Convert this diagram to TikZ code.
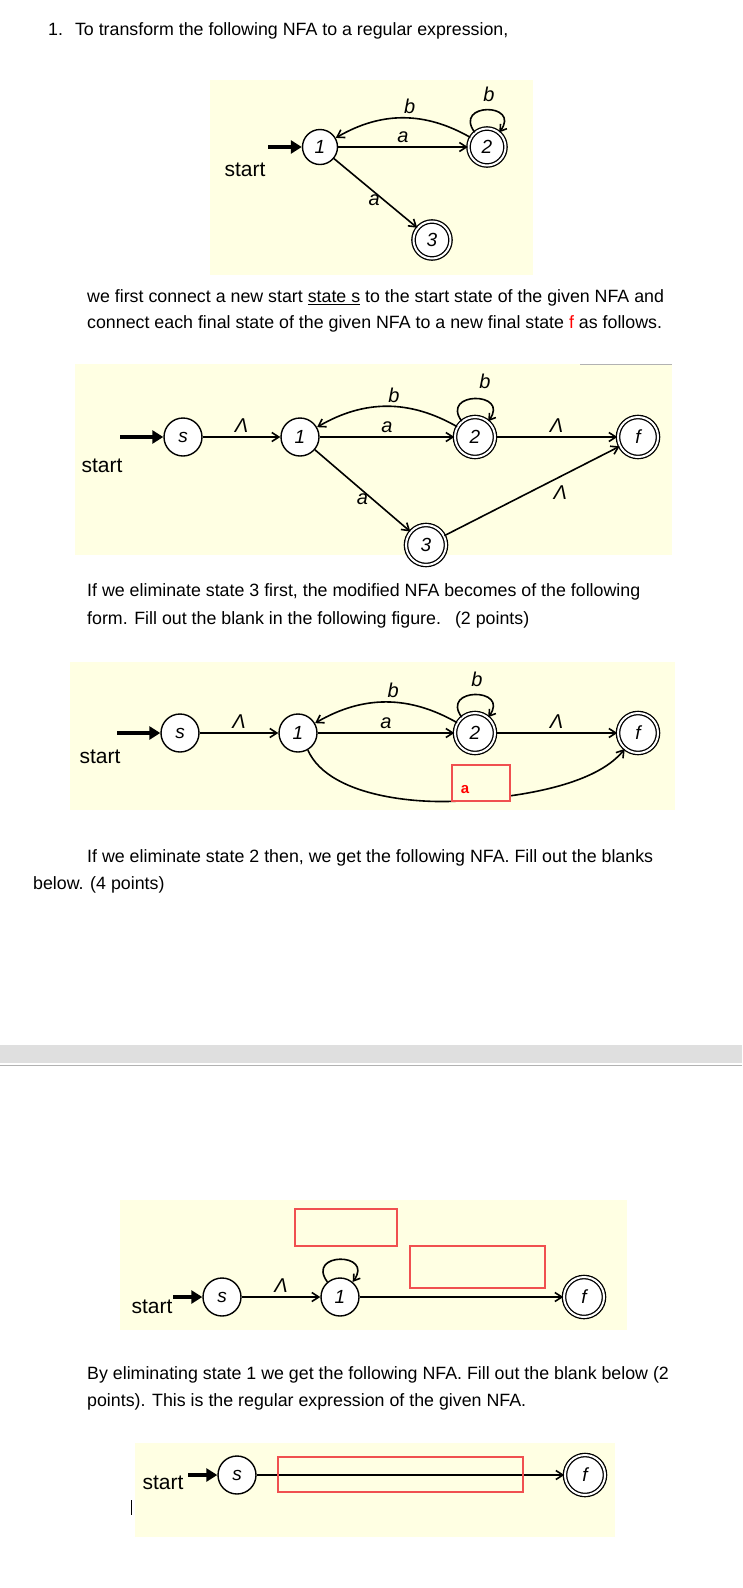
\documentclass[tikz,border=0pt]{standalone}
\usepackage{fontspec}
\setmainfont{Liberation Sans}
\usetikzlibrary{arrows.meta}
\definecolor{bgy}{HTML}{FFFFE3}
\definecolor{redb}{HTML}{F05050}
\newcommand{\lam}{\textit{Λ}}
\begin{document}
\begin{tikzpicture}[x=1pt,y=-1pt,
  st/.style={circle,draw,line width=1.4pt,fill=white,minimum size=38pt,inner sep=0pt,font=\itshape\fontsize{19}{19}\selectfont},
  fin/.style={st,double,double distance=2pt,line width=1.3pt,minimum size=40pt},
  ed/.style={line width=1.6pt,-{Straight Barb[length=7pt,width=9pt]}},
  lb/.style={font=\itshape\fontsize{20}{20}\selectfont},
  tx/.style={anchor=west,font=\fontsize{17.8}{19}\selectfont,inner sep=0pt},
  stl/.style={font=\fontsize{21}{21}\selectfont},
  sa/.style={line width=4pt,-{Triangle[length=11pt,width=13pt]}},
  bx/.style={draw=redb,line width=2pt},
  lp/.style={line width=1.6pt,-{Straight Barb[length=6pt,width=8pt]}},
  yb/.style={fill=bgy}]
\useasboundingbox (0,0) rectangle (742,1588);
\fill[white] (0,0) rectangle (742,1588);
% ---------- text 1
\node[tx] (t1) at (48,31) {1.\hspace{12pt}To transform the following NFA to a regular expression,};
% ---------- diagram 1
\fill[yb] (210,80) rectangle (533,275);
\node[st,minimum size=35pt] (a1) at (320,147) {1};
\node[fin,minimum size=37pt] (a2) at (487,147) {2};
\node[fin,minimum size=37pt] (a3) at (432,240) {3};
\coordinate (a0) at (268,147);
\draw[sa] (a0) -- (a1);
\node[stl] (as) at (245,170) {start};
\draw[ed] (a1) -- node[lb,above] {a} (a2);
\draw[ed] (a1) -- node[lb,left,pos=.6] {a} (a3);
\draw[ed] (a2) to[bend right=30] node[lb,above,pos=.45] {b} (a1);
\draw[lp] (a2.130) .. controls +(-22,-30) and +(22,-30) .. (a2.50);
\node[lb] (ab) at (489,94) {b};
% ---------- text 2
\node[tx] (t2) at (87,298) {we first connect a new start \underline{state s} to the start state of the given NFA and};
\node[tx] (t3) at (87,324) {connect each final state of the given NFA to a new final state \textcolor{red}{f} as follows.};
% ---------- diagram 2
\fill[yb] (75,364) rectangle (672,555);
\draw[gray!60,thick] (580,364) -- (672,364);
\node[st] (bs) at (183,437) {s};
\node[st] (b1) at (300,437) {1};
\node[fin] (b2) at (475,437) {2};
\node[fin] (bf) at (638,437) {f};
\node[fin] (b3) at (426,545) {3};
\coordinate (b0) at (120,437);
\draw[sa] (b0) -- (bs);
\node[stl] (bst) at (102,466) {start};
\draw[ed] (bs) -- node[lb,above] {\lam} (b1);
\draw[ed] (b1) -- node[lb,above] {a} (b2);
\draw[ed] (b2) -- node[lb,above] {\lam} (bf);
\draw[ed] (b1) -- node[lb,left,pos=.6] {a} (b3);
\draw[ed] (b3) -- node[lb,below right,pos=.6] {\lam} (bf);
\draw[ed] (b2) to[bend right=30] node[lb,above,pos=.45] {b} (b1);
\draw[lp] (b2.130) .. controls +(-22,-30) and +(22,-30) .. (b2.50);
\node[lb] (bb) at (485,381) {b};
% ---------- text 3
\node[tx] (t4) at (87,592) {If we eliminate state 3 first, the modified NFA becomes of the following};
\node[tx] (t5) at (87,620) {form. Fill out the blank in the following figure.\hspace{14pt}(2 points)};
% ---------- diagram 3
\fill[yb] (70,662) rectangle (675,810);
\node[st] (cs) at (180,733) {s};
\node[st] (c1) at (298,733) {1};
\node[fin] (c2) at (475,733) {2};
\node[fin] (cf) at (638,733) {f};
\coordinate (c0) at (117,733);
\draw[sa] (c0) -- (cs);
\node[stl] (cst) at (100,757) {start};
\draw[ed] (cs) -- node[lb,above] {\lam} (c1);
\draw[ed] (c1) -- node[lb,above] {a} (c2);
\draw[ed] (c2) -- node[lb,above] {\lam} (cf);
\draw[ed] (c2) to[bend right=30] node[lb,above,pos=.45] {b} (c1);
\draw[lp] (c2.130) .. controls +(-22,-30) and +(22,-30) .. (c2.50);
\node[lb] (cb) at (477,679) {b};
\draw[ed] (c1.300) .. controls (330,800) and (430,805) .. (470,800) .. controls (540,795) and (600,780) .. (cf.230);
\node[bx,fill=bgy,minimum width=58pt,minimum height=36pt,inner sep=0pt] (cbx) at (481,783) {};
\node[text=red,font=\bfseries\fontsize{15}{15}\selectfont] (ca) at (465,790) {a};
% ---------- text 4
\node[tx] (t6) at (87,858) {If we eliminate state 2 then, we get the following NFA. Fill out the blanks};
\node[tx] (t7) at (33,885) {below. (4 points)};
% ---------- separator
\fill[gray!25] (0,1045) rectangle (742,1063);
\draw[gray!60] (0,1065) -- (742,1065);
% ---------- diagram 4
\fill[yb] (120,1200) rectangle (627,1330);
\node[st] (ds) at (222,1297) {s};
\node[st] (d1) at (340,1297) {1};
\node[fin] (df) at (584,1297) {f};
\coordinate (d0) at (173,1297);
\draw[sa] (d0) -- (ds);
\node[stl] (dst) at (152,1307) {start};
\draw[ed] (ds) -- node[lb,above] {\lam} (d1);
\draw[ed] (d1) -- (df);
\draw[lp] (d1.130) .. controls +(-22,-30) and +(22,-30) .. (d1.50);
\node[bx,minimum width=102pt,minimum height=37pt,inner sep=0pt] (db1) at (346,1227) {};
\node[bx,minimum width=135pt,minimum height=42pt,inner sep=0pt] (db2) at (477,1267) {};
% ---------- text 5
\node[tx] (t8) at (87,1375) {By eliminating state 1 we get the following NFA. Fill out the blank below (2};
\node[tx] (t9) at (87,1402) {points). This is the regular expression of the given NFA.};
% ---------- diagram 5
\fill[yb] (135,1443) rectangle (615,1537);
\node[st] (es) at (237,1475) {s};
\node[fin] (ef) at (585,1475) {f};
\coordinate (e0) at (188,1475);
\draw[sa] (e0) -- (es);
\node[stl] (est) at (163,1483) {start};
\draw[ed] (es) -- (ef);
\node[bx,minimum width=245pt,minimum height=35pt,inner sep=0pt] (eb) at (400,1474) {};
\coordinate (k1) at (131,1500);
\coordinate (k2) at (131,1515);
\draw (k1) -- (k2);
\end{tikzpicture}
\end{document}
